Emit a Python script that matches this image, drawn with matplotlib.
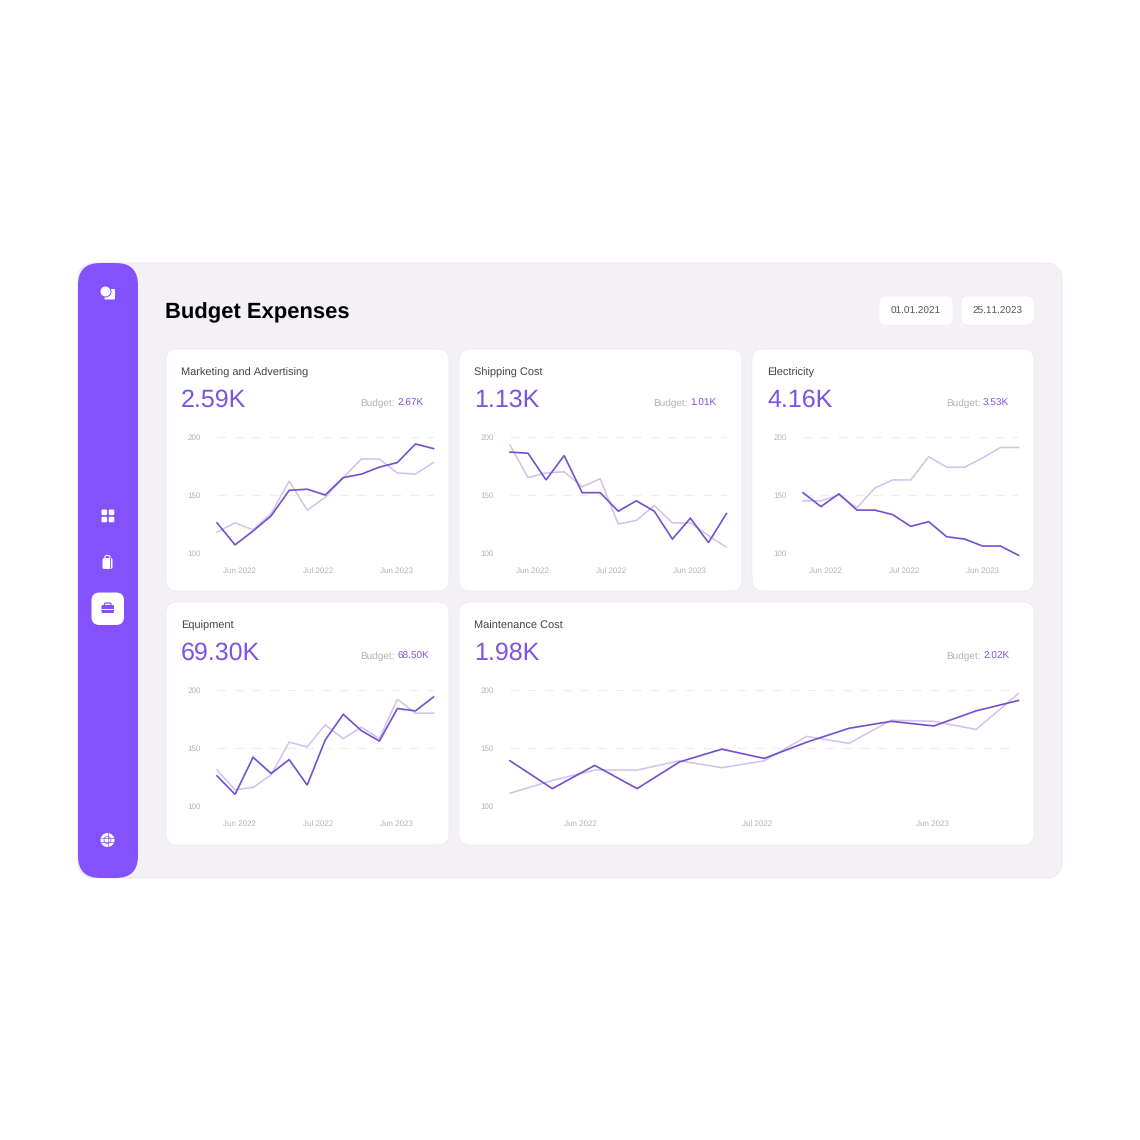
"""Budget Expenses dashboard: five small line-chart cards on a purple-sidebar panel."""
import matplotlib; matplotlib.use("Agg")
import matplotlib.pyplot as plt
from matplotlib.patches import FancyBboxPatch, Circle

plt.rcParams["font.family"] = ["Liberation Sans", "DejaVu Sans"]
plt.rcParams["text.hinting"] = "no_hinting"
plt.rcParams["text.hinting_factor"] = 1

TITLES = ["Marketing and Advertising", "Shipping Cost", "Electricity", "Equipment", "Maintenance Cost"]
VALUES = ["2.59K", "1.13K", "4.16K", "69.30K", "1.98K"]
BUDGETS = ["2.67K", "1.01K", "3.53K", "68.50K", "2.02K"]
DATES = ["01.01.2021", "25.11.2023"]
YTICKS = [100, 150, 200]
XLABELS = ["Jun 2022", "Jul 2022", "Jun 2023"]
XPOS_SMALL = [1.25, 5.63, 9.97]
XPOS_WIDE = [1.67, 5.83, 9.98]

actual_marketing = [126, 107, 119, 132, 154, 155, 150, 165, 168, 174, 178, 194, 190]
target_marketing = [118, 126, 120, 134, 162, 137, 148, 165, 181, 181, 169, 168, 178]
actual_shipping = [187, 186, 163, 184, 152, 152, 136, 145, 136, 112, 130, 109, 134]
target_shipping = [193, 165, 169, 170, 157, 164, 125, 128, 141, 126, 126, 115, 105]
actual_electricity = [152, 140, 151, 137, 137, 133, 123, 127, 114, 112, 106, 106, 98]
target_electricity = [145, 145, 150, 139, 156, 163, 163, 183, 174, 174, 182, 191, 191]
actual_equipment = [126, 110, 142, 128, 140, 118, 157, 179, 165, 156, 184, 182, 194]
target_equipment = [131, 114, 116, 127, 155, 151, 170, 158, 168, 158, 192, 180, 180]
actual_maintenance = [139, 115, 135, 115, 138, 149, 141, 155, 167, 173, 169, 182, 191]
target_maintenance = [111, 122, 131, 131, 139, 133, 139, 160, 154, 174, 173, 166, 197]

ACTUALS = [actual_marketing, actual_shipping, actual_electricity, actual_equipment, actual_maintenance]
TARGETS = [target_marketing, target_shipping, target_electricity, target_equipment, target_maintenance]

PURPLE, DARK, LIGHT = "#8352FD", "#7050D0", "#CFC4EC"
BIGTXT, GREY = "#7A55E2", "#B4B2B8"
W = 1140.0

# card boxes in pixels: x0, x1, y0, y1
CARDS = [(166, 449, 349, 591), (459, 742, 349, 591), (752, 1034, 349, 591),
         (166, 449, 602, 845), (459, 1034, 602, 845)]
BUDGET_X = [(360, 397.5), (653, 690.5), (946, 983), (360, 397.5), (946, 983)]

fig = plt.figure(figsize=(11.4, 11.4), dpi=100, facecolor="white")
bg = fig.add_axes([0, 0, 1, 1]); bg.set_xlim(0, W); bg.set_ylim(W, 0); bg.axis("off")


def rbox(x0, x1, y0, y1, r, fc, ec="none", lw=0, z=1):
    bg.add_patch(FancyBboxPatch((x0 + r, y0 + r), x1 - x0 - 2 * r, y1 - y0 - 2 * r,
                                boxstyle=f"round,pad={r},rounding_size={r}",
                                fc=fc, ec=ec, lw=lw, zorder=z))


# ---- shell ----
rbox(78, 1062, 263, 878, 17, "#F3F1F6", "#EAE8EE", 0.7, 1)
rbox(78, 138, 263, 878, 22, PURPLE, z=2)
bg.text(165, 318, "Budget Expenses", fontsize=15.75, fontweight="bold", color="black", va="baseline")
for (x0, x1), d in zip([(879, 953), (961, 1034)], DATES):
    rbox(x0, x1, 296, 325, 7, "white", "#EFEDF2", 0.5, 3)
    bg.text((x0 + x1) / 2, 314, d, fontsize=7.0, color="#555555", ha="center", va="baseline", zorder=4)

# ---- sidebar icons ----
rbox(104.5, 115, 289, 299.5, 1, "white", z=3)
bg.add_patch(Circle((105.5, 291.5), 6.0, fc=PURPLE, ec="none", zorder=4))
bg.add_patch(Circle((105.5, 291.5), 5, fc="white", ec="none", zorder=5))
for xg in (101.5, 108.7):
    for yg in (509.5, 516.7):
        rbox(xg, xg + 5.6, yg, yg + 5.6, 1.3, "white", z=3)
rbox(102.5, 112.5, 558, 569, 1.8, "white", z=3)
rbox(105, 110, 555.5, 561, 1.5, "none", "white", 0.8, 3)
bg.plot([109.8, 109.8], [558, 569], color=PURPLE, lw=0.6, zorder=4)
rbox(91.5, 124, 592.5, 625, 8, "white", z=3)
rbox(101.5, 114, 605, 613, 1.3, PURPLE, z=4)
rbox(104.5, 111, 603, 607, 1, "none", PURPLE, 0.9, 4)
bg.plot([101.5, 114], [609, 609], color="white", lw=0.7, zorder=5)
bg.add_patch(Circle((107.5, 840), 7, fc="white", zorder=3))
bg.plot([100.5, 114.5], [837.7, 837.7], color=PURPLE, lw=0.5, zorder=4)
bg.plot([100.5, 114.5], [842.3, 842.3], color=PURPLE, lw=0.5, zorder=4)
bg.plot([107.5, 107.5], [833, 847], color=PURPLE, lw=0.5, zorder=4)
bg.add_patch(Circle((107.5, 840), 3.5, fc="none", ec=PURPLE, lw=0.5, zorder=4))

# ---- cards ----
for i, (x0, x1, y0, y1) in enumerate(CARDS):
    rbox(x0, x1, y0, y1, 11, "white", "#ECEAF0", 0.6, 2)
    bg.text(x0 + 15, y0 + 27, TITLES[i], fontsize=7.95, color="#444444", va="baseline", zorder=3)
    bg.text(x0 + 15, y0 + 57.5, VALUES[i], fontsize=18.2, color=BIGTXT, va="baseline", zorder=3)
    bx, vx = BUDGET_X[i]
    bg.text(bx, y0 + 57, "Budget:", fontsize=6.9, color=GREY, va="baseline", zorder=3)
    bg.text(vx, y0 + 57, BUDGETS[i], fontsize=6.9, color=BIGTXT, va="baseline", zorder=3)

    # plot area, 200 sits 88 px under the card top and 100 sits 204 px under it
    ax0, ax1 = x0 + 51, x1 - 15.5
    ax_top, ax_bot = y0 + 88, y0 + 204
    ax = fig.add_axes([ax0 / W, 1 - ax_bot / W, (ax1 - ax0) / W, (ax_bot - ax_top) / W], zorder=5)
    ax.patch.set_alpha(0)
    xs = list(range(len(ACTUALS[i])))
    ax.plot(xs, TARGETS[i], color=LIGHT, lw=1.15, clip_on=False, solid_joinstyle="miter", zorder=3)
    ax.plot(xs, ACTUALS[i], color=DARK, lw=1.2, clip_on=False, solid_joinstyle="miter", zorder=4)
    ax.set_xlim(0, 12); ax.set_ylim(100, 200)
    ax.set_yticks(YTICKS)
    ax.set_xticks(XPOS_WIDE if i == 4 else XPOS_SMALL, XLABELS)
    ax.tick_params(length=0, labelsize=6.05, labelcolor=GREY)
    ax.tick_params(axis="y", pad=11.5)
    ax.tick_params(axis="x", pad=10.2)
    ax.yaxis.grid(True, color="#EFEDF2", lw=0.9, dashes=(7, 7))
    ax.set_axisbelow(True)
    for s in ax.spines.values():
        s.set_visible(False)

fig.savefig("out.png", dpi=100)
